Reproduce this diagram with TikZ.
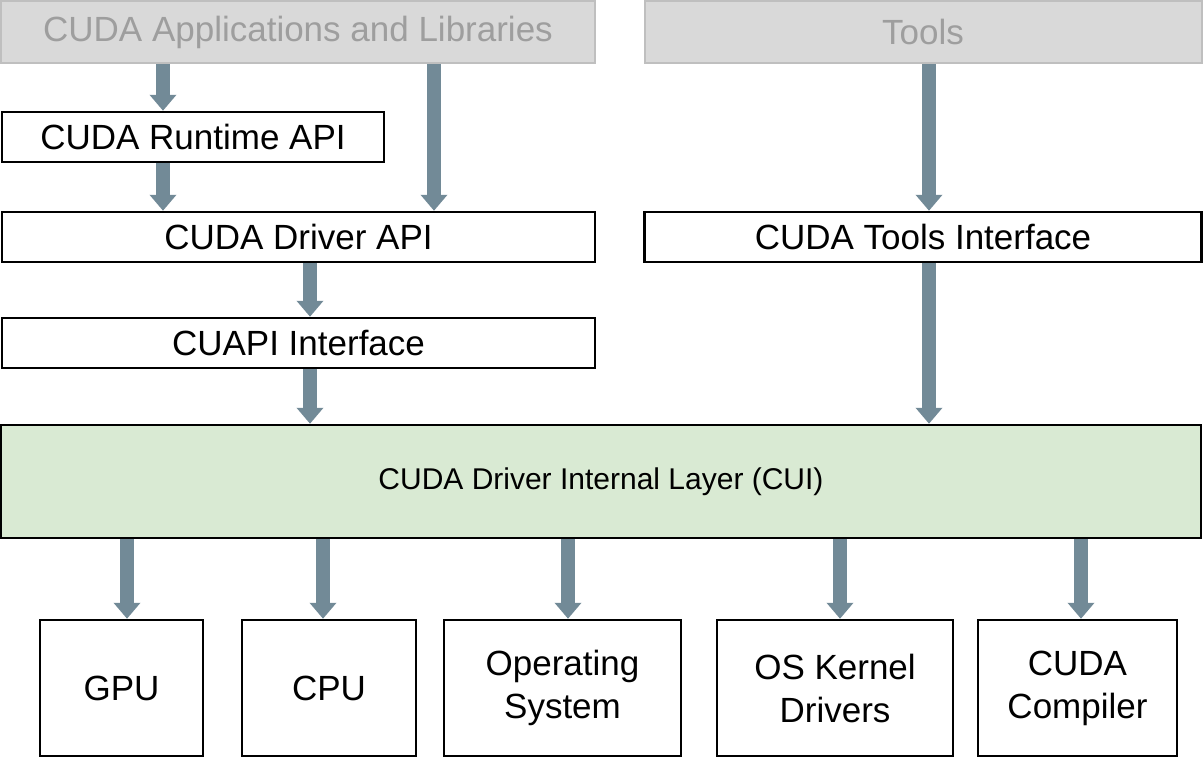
\documentclass[tikz,border=0pt]{standalone}
\usepackage{fontspec}
\setmainfont{Liberation Sans}
\usetikzlibrary{arrows.meta}
\definecolor{arrc}{HTML}{728A97}
\definecolor{cuig}{HTML}{D9EAD3}
\begin{document}
\begin{tikzpicture}[x=1pt,y=-1pt,
  box/.style={draw=black,line width=2.5pt,fill=white,inner sep=0,font=\fontsize{35}{43}\selectfont,align=center},
  gbox/.style={draw=black!25,line width=2pt,fill=black!15,text=black!38,inner sep=0,font=\fontsize{35}{43}\selectfont},
  arr/.style={draw=arrc,line width=14pt,-{Triangle[width=26pt 0,length=16pt 0,color=arrc]}}]
\useasboundingbox (0,0) rectangle (1204,758);
\node[gbox,minimum width=594,minimum height=62] (apps) at (298,32) {CUDA Applications and Libraries};
\node[gbox,minimum width=557,minimum height=62] (tools) at (923,32) {Tools};
\node[box,minimum width=382,minimum height=50] (rt) at (193,137) {CUDA Runtime API};
\node[box,minimum width=593,minimum height=50] (drv) at (298.5,237) {CUDA Driver API};
\node[box,minimum width=557,minimum height=50] (ti) at (923,237) {CUDA Tools Interface};
\node[box,minimum width=593,minimum height=50] (cuapi) at (298.5,343) {CUAPI Interface};
\node[box,fill=cuig,minimum width=1200,minimum height=113,font=\fontsize{30}{32}\selectfont] (cui) at (601,481.5) {CUDA Driver Internal Layer (CUI)};
\node[box,minimum width=163,minimum height=136] (gpu) at (121.5,688) {GPU};
\node[box,minimum width=174,minimum height=136] (cpu) at (329,688) {CPU};
\node[box,minimum width=237,minimum height=136] (os) at (562.5,688) {Operating\\System};
\node[box,minimum width=236,minimum height=136] (ok) at (835,688) {OS Kernel\\Drivers};
\node[box,minimum width=199,minimum height=136] (cc) at (1077.5,688) {CUDA\\Compiler};
\coordinate (c1) at (163,0);
\coordinate (c2) at (434,0);
\coordinate (c3) at (929,0);
\coordinate (c4) at (310,0);
\coordinate (b1) at (127,0);
\coordinate (b2) at (323,0);
\coordinate (b3) at (568,0);
\coordinate (b4) at (840,0);
\coordinate (b5) at (1081,0);
\draw[arr] (apps.south -| c1) -- (rt.north -| c1);
\draw[arr] (rt.south -| c1) -- (drv.north -| c1);
\draw[arr] (apps.south -| c2) -- (drv.north -| c2);
\draw[arr] (tools.south -| c3) -- (ti.north -| c3);
\draw[arr] (drv.south -| c4) -- (cuapi.north -| c4);
\draw[arr] (cuapi.south -| c4) -- (cui.north -| c4);
\draw[arr] (ti.south -| c3) -- (cui.north -| c3);
\draw[arr] (cui.south -| b1) -- (gpu.north -| b1);
\draw[arr] (cui.south -| b2) -- (cpu.north -| b2);
\draw[arr] (cui.south -| b3) -- (os.north -| b3);
\draw[arr] (cui.south -| b4) -- (ok.north -| b4);
\draw[arr] (cui.south -| b5) -- (cc.north -| b5);
\end{tikzpicture}
\end{document}
